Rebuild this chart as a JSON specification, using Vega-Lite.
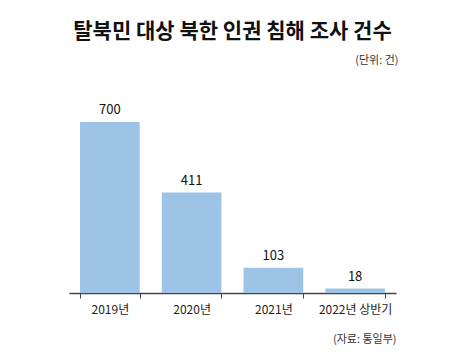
{
  "$schema": "https://vega.github.io/schema/vega-lite/v6.json",
  "autosize": "none",
  "width": 327,
  "height": 195.4,
  "padding": {"left": 69, "top": 97.6, "right": 78, "bottom": 62},
  "background": "white",
  "config": {
    "view": {"stroke": null},
    "font": "Noto Sans CJK KR"
  },
  "title": {
    "text": "탈북민 대상 북한 인권 침해 조사 건수",
    "fontSize": 21,
    "fontWeight": "bold",
    "color": "#111111",
    "anchor": "middle",
    "baseline": "middle",
    "offset": 1
  },
  "data": {
    "values": [
      {"period": "2019년", "count": 700},
      {"period": "2020년", "count": 411},
      {"period": "2021년", "count": 103},
      {"period": "2022년 상반기", "count": 18}
    ]
  },
  "encoding": {
    "x": {
      "field": "period",
      "type": "nominal",
      "sort": null,
      "scale": {"paddingInner": 0.27, "paddingOuter": 0.135},
      "axis": {
        "title": "(자료: 통일부)",
        "titleAnchor": "end",
        "titleAlign": "right",
        "titleFontSize": 11,
        "titleFontWeight": "normal",
        "titleColor": "#333333",
        "titlePadding": 18,
        "labelAngle": 0,
        "labelFontSize": 12,
        "labelColor": "#222222",
        "labelPadding": 6,
        "domainColor": "#444444",
        "domainWidth": 1.5,
        "tickColor": "#444444",
        "tickSize": 5,
        "tickBand": "extent"
      }
    },
    "y": {
      "field": "count",
      "type": "quantitative",
      "scale": {"domain": [0, 800]},
      "axis": {
        "orient": "right",
        "title": "(단위: 건)",
        "titleAngle": 0,
        "titleAlign": "right",
        "titleBaseline": "middle",
        "titleX": 2,
        "titleY": -37.6,
        "titleFontSize": 11,
        "titleFontWeight": "normal",
        "titleColor": "#333333",
        "labels": false,
        "ticks": false,
        "domain": false,
        "grid": false
      }
    }
  },
  "layer": [
    {"mark": {"type": "bar", "color": "#9dc3e6"}},
    {
      "mark": {"type": "text", "baseline": "bottom", "dy": -5, "fontSize": 13, "color": "#111111"},
      "encoding": {"text": {"field": "count", "type": "quantitative"}}
    }
  ]
}
